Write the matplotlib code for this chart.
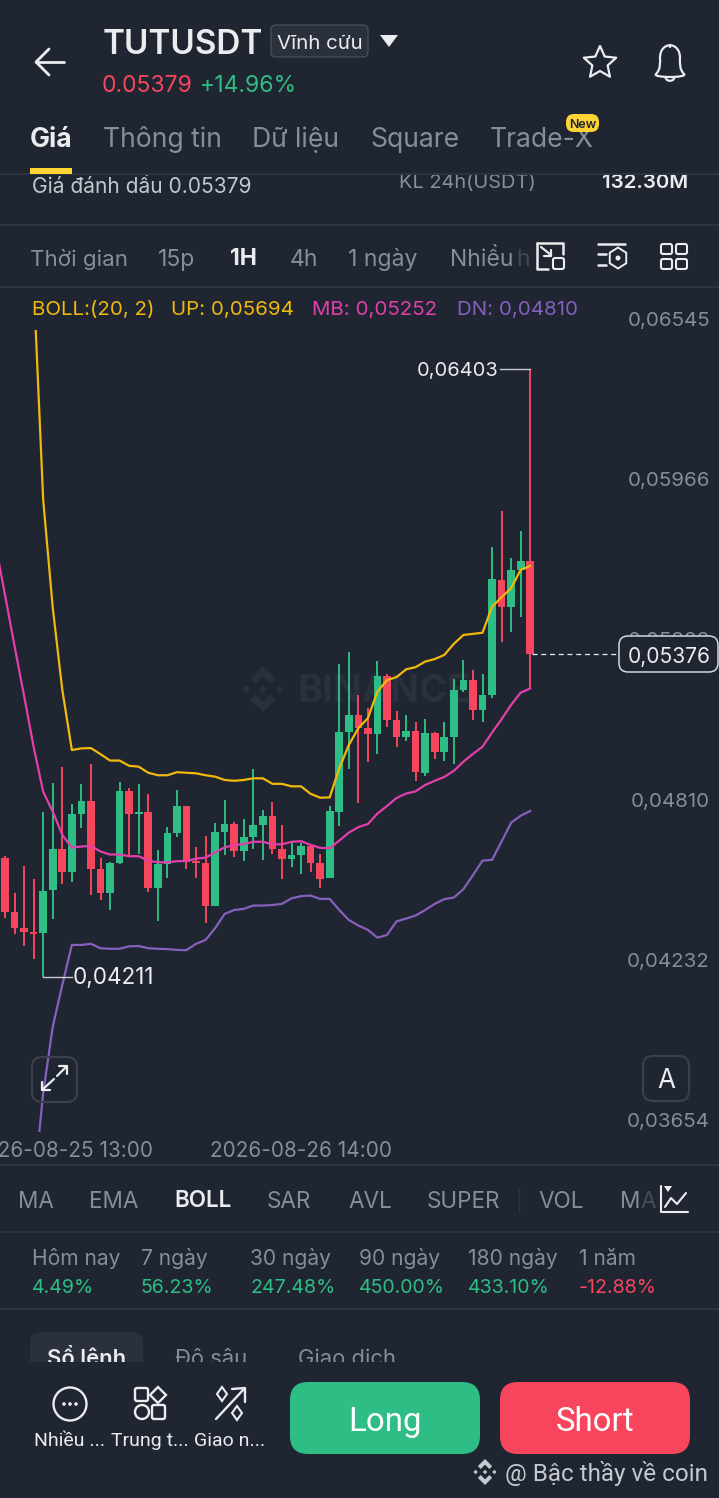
import matplotlib
matplotlib.use('Agg')
import matplotlib.pyplot as plt
import numpy as np
from matplotlib.patches import FancyBboxPatch, Polygon, Rectangle, Circle, PathPatch
from matplotlib.path import Path

# candles, one per hour, oldest first
opens = [0.04639, 0.04446, 0.04388, 0.04374, 0.04371, 0.04524, 0.04672, 0.04589, 0.04798, 0.04847,
         0.04600, 0.04515, 0.04623, 0.04882, 0.04798, 0.04808, 0.04532, 0.04618, 0.04731, 0.04827,
         0.04629, 0.04622, 0.04467, 0.04735, 0.04762, 0.04667, 0.04718, 0.04761, 0.04791, 0.04673,
         0.04637, 0.04651, 0.04684, 0.04622, 0.04568, 0.04808, 0.05094, 0.05157, 0.05109, 0.05087,
         0.05297, 0.05139, 0.05078, 0.05099, 0.04948, 0.05093, 0.05022, 0.05077, 0.05248, 0.05282,
         0.05176, 0.05228, 0.05644, 0.05547, 0.05680, 0.05710]
closes = [0.04447, 0.04389, 0.04375, 0.04368, 0.04523, 0.04672, 0.04590, 0.04798, 0.04847, 0.04601,
          0.04515, 0.04624, 0.04882, 0.04798, 0.04808, 0.04532, 0.04618, 0.04731, 0.04828, 0.04627,
          0.04622, 0.04469, 0.04735, 0.04763, 0.04667, 0.04718, 0.04761, 0.04792, 0.04672, 0.04637,
          0.04651, 0.04684, 0.04623, 0.04566, 0.04809, 0.05094, 0.05156, 0.05109, 0.05086, 0.05297,
          0.05140, 0.05078, 0.05099, 0.04950, 0.05093, 0.05022, 0.05078, 0.05248, 0.05282, 0.05176,
          0.05229, 0.05646, 0.05547, 0.05680, 0.05710, 0.05376]
highs = [0.04648, 0.04513, 0.04612, 0.04564, 0.04806, 0.04910, 0.04970, 0.04834, 0.04907, 0.04979,
         0.04640, 0.04627, 0.04914, 0.04894, 0.04907, 0.04871, 0.04671, 0.04754, 0.04887, 0.04827,
         0.04679, 0.04719, 0.04768, 0.04851, 0.04771, 0.04780, 0.04962, 0.04814, 0.04842, 0.04761,
         0.04694, 0.04694, 0.04684, 0.04654, 0.04828, 0.05342, 0.05383, 0.05228, 0.05181, 0.05350,
         0.05304, 0.05170, 0.05157, 0.05132, 0.05141, 0.05094, 0.05131, 0.05286, 0.05354, 0.05319,
         0.05304, 0.05764, 0.05892, 0.05722, 0.05820, 0.06403]
lows = [0.04425, 0.04368, 0.04324, 0.04275, 0.04211, 0.04421, 0.04547, 0.04553, 0.04748, 0.04507,
        0.04490, 0.04454, 0.04619, 0.04652, 0.04654, 0.04519, 0.04415, 0.04568, 0.04718, 0.04601,
        0.04569, 0.04405, 0.04467, 0.04652, 0.04644, 0.04631, 0.04674, 0.04635, 0.04655, 0.04563,
        0.04607, 0.04583, 0.04590, 0.04532, 0.04568, 0.04757, 0.04961, 0.04838, 0.04985, 0.05015,
        0.05113, 0.05042, 0.05064, 0.04920, 0.04938, 0.04999, 0.04991, 0.04981, 0.05241, 0.05140,
        0.05132, 0.05219, 0.05421, 0.05457, 0.05510, 0.05250]

# bollinger bands, the first points are above/below the visible pane
boll_up = [np.nan, np.nan, np.nan, 0.06715, 0.05932, 0.05543, 0.05247, 0.05030, 0.05036, 0.05037,
           0.05015, 0.04992, 0.04992, 0.04973, 0.04970, 0.04948, 0.04939, 0.04939, 0.04950, 0.04948,
           0.04946, 0.04939, 0.04934, 0.04922, 0.04919, 0.04922, 0.04928, 0.04928, 0.04908, 0.04908,
           0.04899, 0.04899, 0.04872, 0.04858, 0.04859, 0.04964, 0.05048, 0.05109, 0.05145, 0.05241,
           0.05282, 0.05293, 0.05321, 0.05329, 0.05349, 0.05358, 0.05373, 0.05413, 0.05445, 0.05449,
           0.05453, 0.05547, 0.05581, 0.05614, 0.05680, 0.05694]
boll_mid = [0.05589, 0.05405, 0.05225, 0.05041, 0.04879, 0.04808, 0.04724, 0.04678, 0.04682, 0.04684,
            0.04664, 0.04653, 0.04653, 0.04647, 0.04647, 0.04631, 0.04625, 0.04625, 0.04629, 0.04630,
            0.04638, 0.04642, 0.04660, 0.04679, 0.04687, 0.04691, 0.04699, 0.04699, 0.04690, 0.04690,
            0.04699, 0.04701, 0.04688, 0.04677, 0.04676, 0.04703, 0.04732, 0.04752, 0.04763, 0.04801,
            0.04828, 0.04857, 0.04873, 0.04881, 0.04904, 0.04919, 0.04933, 0.04955, 0.04988, 0.05016,
            0.05042, 0.05093, 0.05141, 0.05193, 0.05237, 0.05252]
boll_dn = [np.nan, np.nan, np.nan, 0.03447, 0.03793, 0.04032, 0.04183, 0.04327, 0.04327, 0.04331,
           0.04315, 0.04313, 0.04313, 0.04322, 0.04323, 0.04315, 0.04313, 0.04312, 0.04309, 0.04308,
           0.04331, 0.04345, 0.04387, 0.04439, 0.04453, 0.04457, 0.04469, 0.04469, 0.04471, 0.04475,
           0.04495, 0.04503, 0.04505, 0.04493, 0.04493, 0.04453, 0.04417, 0.04397, 0.04381, 0.04353,
           0.04363, 0.04412, 0.04422, 0.04433, 0.04453, 0.04475, 0.04492, 0.04498, 0.04528, 0.04579,
           0.04631, 0.04634, 0.04700, 0.04768, 0.04793, 0.04810]

price_ticks = [0.06545, 0.05966, 0.05388, 0.04810, 0.04232, 0.03654]
date_pos = [6, 31]
date_labels = ['2026-08-25 13:00', '2026-08-26 14:00']
last_price = 0.05376

tabs = ['Thông tin', 'Dữ liệu', 'Square', 'Trade-X']
tab_x = [103, 252, 370, 490]
periods = ['15p', '4h', '1 ngày']
period_x = [158, 290, 348]
indicators = ['MA', 'EMA', 'SAR', 'AVL', 'SUPER', 'VOL']
indicator_x = [18, 89, 267, 348, 427, 538]
perf_names = ['Hôm nay', '7 ngày', '30 ngày', '90 ngày', '180 ngày', '1 năm']
perf_values = ['4.49%', '56.23%', '247.48%', '450.00%', '433.10%', '-12.88%']
perf_x = [32, 141, 250, 359, 468, 579]

BG = '#1f2531'
GREEN = '#2ebd85'
RED = '#f6465d'
GOLD = '#f0b90b'
PINK = '#e23fac'
PURPLE = '#8660bd'
GRAY = '#848e9c'
LINE = '#2e3440'
WHITE = '#eaecef'

W, H = 719, 1498
fig = plt.figure(figsize=(W / 100, H / 100), dpi=100, facecolor=BG)

# price pane, everything in here goes through its own scales
top, bottom = 330, 1131.5
ax = fig.add_axes([0, 1 - bottom / H, 1, (bottom - top) / H], zorder=1)
ax.patch.set_alpha(0)
step = 9.55
ax.set_xlim(-5 / step, (W - 5) / step)
ax.set_ylim(min(price_ticks), max(price_ticks))
ax.axis('off')

# pixel layer for the app chrome
ui = fig.add_axes([0, 0, 1, 1], zorder=2)
ui.patch.set_alpha(0)
ui.set_xlim(0, W)
ui.set_ylim(H, 0)
ui.axis('off')


def fs(px):
    return px * 0.72


def txt(x, y, s, px, color=GRAY, ha='left', weight='normal', family='Inter', z=6, alpha=1):
    return ui.text(x, y, s, fontsize=fs(px), color=color, ha=ha, va='baseline', fontweight=weight,
                   family=family, zorder=z, alpha=alpha)


def hline(y, color=LINE, z=4):
    ui.plot([0, W], [y, y], color=color, lw=1.4, zorder=z, solid_capstyle='butt')


def box(x0, y0, x1, y1, r, fc='none', ec='none', lw=1.5, z=5):
    p = FancyBboxPatch((x0 + r, y0 + r), x1 - x0 - 2 * r, y1 - y0 - 2 * r,
                       boxstyle='round,pad=%f,rounding_size=%f' % (r, r), fc=fc, ec=ec, lw=lw, zorder=z)
    ui.add_patch(p)


def stroke(xs, ys, color=WHITE, lw=1.8, z=6):
    ui.plot(xs, ys, color=color, lw=lw, zorder=z, solid_capstyle='round', solid_joinstyle='round')


def logo(cx, cy, s, color, target, z):
    # binance mark, 4 small diamonds and the centre
    d = s * 0.17
    for ox, oy in [(0, 0), (-s * 0.72, 0), (s * 0.72, 0)]:
        target.add_patch(Polygon([(cx + ox - d, cy + oy), (cx + ox, cy + oy - d), (cx + ox + d, cy + oy),
                                  (cx + ox, cy + oy + d)], fc=color, ec='none', zorder=z, transform=ui.transData))
    for sign in (-1, 1):
        t = [(cx, cy + sign * s), (cx + s * 0.55, cy + sign * s * 0.45), (cx + s * 0.33, cy + sign * s * 0.23),
             (cx, cy + sign * s * 0.56), (cx - s * 0.33, cy + sign * s * 0.23), (cx - s * 0.55, cy + sign * s * 0.45)]
        target.add_patch(Polygon(t, fc=color, ec='none', zorder=z, transform=ui.transData))


# watermark under the candles
logo(263, 689, 23, '#2a313d', ax, 0)
ax.text(298, 702, 'BINANCE', transform=ui.transData, fontsize=fs(38), color='#2a313d', fontweight='bold',
        family='Inter', va='baseline', ha='left', zorder=0)

# candles
idx = np.arange(len(opens))
o = np.array(opens)
c = np.array(closes)
colors = [GREEN if c[i] >= o[i] else RED for i in idx]
ax.vlines(idx, lows, highs, colors=colors, lw=1.4, zorder=2)
ax.bar(idx, np.abs(c - o), bottom=np.minimum(o, c), width=0.8, color=colors, linewidth=0, zorder=3)

# bands
ax.plot(idx, boll_up, color=GOLD, lw=1.6, zorder=4)
ax.plot(idx, boll_mid, color=PINK, lw=1.6, zorder=4)
ax.plot(idx, boll_dn, color=PURPLE, lw=1.6, zorder=4)
# the middle band keeps going off the left edge
ax.plot([-1, 0], [0.05773, boll_mid[0]], color=PINK, lw=1.6, zorder=4)

# last price, high and low markers
ax.plot([idx[-1] + 0.2, (619 - 5) / step], [last_price, last_price], color=WHITE, lw=0.9,
        dashes=(4, 3), zorder=4)
hi = int(np.argmax(highs))
lo = int(np.argmin(lows))
ax.plot([hi - 3.2, hi], [highs[hi], highs[hi]], color='#c8ccd2', lw=1, zorder=5)
ax.plot([lo, lo + 3], [lows[lo], lows[lo]], color='#c8ccd2', lw=1, zorder=5)
ax.annotate('0,06403', (hi - 3.2, highs[hi]), xytext=(-0.5, -1), textcoords='offset points', ha='right',
            va='center', fontsize=fs(20), color=WHITE, family='Inter', zorder=6)
ax.annotate('0,04211', (lo + 3, lows[lo]), xytext=(0.5, -1), textcoords='offset points', ha='left',
            va='center', fontsize=fs(22.5), color=WHITE, family='Inter', zorder=6)

# price labels sit above their level, dates below the pane
for p in price_ticks:
    ax.annotate(('%.5f' % p).replace('.', ','), (1, p), xycoords=('axes fraction', 'data'),
                xytext=(-6.5, 6.8), textcoords='offset points', ha='right', va='center', fontsize=fs(20.5),
                color=GRAY, family='Inter', annotation_clip=False, zorder=2)
for pos, lab in zip(date_pos, date_labels):
    ax.annotate(lab, (pos, 0), xycoords=('data', 'axes fraction'), xytext=(0, -14), textcoords='offset points',
                ha='center', va='center', fontsize=fs(20.7), color=GRAY, family='Inter', annotation_clip=False)

box(619, 636, 718, 672, 9, fc=BG, ec='#d5d8dc', lw=1.1, z=5)
txt(669, 663, '0,05376', 21, WHITE, ha='center')

# buttons over the pane
box(32, 1057, 77, 1102, 10, ec='#3a404c', z=5)
stroke([42, 54], [1090, 1079], lw=1.6)
stroke([42, 42, 50], [1082, 1090, 1090], lw=1.6)
stroke([57, 67], [1076, 1066], lw=1.6)
stroke([59, 67, 67], [1066, 1066, 1074], lw=1.6)
box(643, 1056, 689, 1101, 10, ec='#3a404c', z=5)
txt(666, 1088, 'A', 26, WHITE, ha='center')

# legend row
txt(32, 315, 'BOLL:(20, 2)', 20.5, GOLD)
txt(171, 315, 'UP: 0,05694', 20.5, GOLD)
txt(312, 315, 'MB: 0,05252', 20.5, PINK)
txt(457, 315, 'DN: 0,04810', 20.5, PURPLE)

# stats row, its top is cut off by the tab bar
txt(32, 193, 'Giá đánh dấu 0.05379', 21, '#c3c8cf', z=1)
txt(399, 188, 'KL 24h(USDT)', 20, GRAY, z=1)
txt(688, 188, '132.30M', 20.5, WHITE, ha='right', weight='semibold', z=1)

# header
ui.add_patch(Rectangle((0, 0), W, 174, fc=BG, ec='none', zorder=3))
stroke([36, 64], [62, 62], lw=2)
stroke([49, 36, 49], [49, 62, 75], lw=2)
txt(103, 54, 'TUTUSDT', 33.3, WHITE, weight='semibold')
box(271, 25, 368, 57, 5, fc='#2a303c', ec='#474d57', lw=1)
txt(319.5, 49, 'Vĩnh cửu', 20.5, WHITE, ha='center')
ui.add_patch(Polygon([(380, 35), (398, 35), (389, 47)], fc=WHITE, ec='none', zorder=6))
txt(102, 92, '0.05379', 23, RED)
txt(200, 92, '+14.96%', 23, GREEN)

ang = np.arange(10) * np.pi / 5 - np.pi / 2
rad = np.where(np.arange(10) % 2 == 0, 17, 8)
ui.add_patch(Polygon(np.c_[600 + rad * np.cos(ang), 63 + rad * np.sin(ang)], fc='none', ec=WHITE, lw=1.6,
                     joinstyle='round', zorder=6))
# bell, body then the clapper
bell = Path([(656, 74), (661, 69), (660, 62), (660, 58),
             (660, 41), (680, 41), (680, 58),
             (680, 62), (679, 69), (684, 74),
             (688, 78), (652, 78), (656, 74)],
            [Path.MOVETO, Path.CURVE4, Path.CURVE4, Path.CURVE4,
             Path.CURVE4, Path.CURVE4, Path.CURVE4,
             Path.CURVE4, Path.CURVE4, Path.CURVE4,
             Path.CURVE4, Path.CURVE4, Path.CURVE4])
ui.add_patch(PathPatch(bell, fc='none', ec=WHITE, lw=1.6, zorder=6))
stroke([665, 667, 670, 673, 675], [77, 80, 81, 80, 77], lw=1.6)
stroke([670, 670], [45, 47], lw=1.6)

txt(30, 147, 'Giá', 26.5, WHITE, weight='bold')
for x, lab in zip(tab_x, tabs):
    txt(x, 147, lab, 26.5, GRAY)
ui.add_patch(Rectangle((30, 168), 42, 6, fc='#fcd535', ec='none', zorder=5))
box(566, 114, 599, 132, 8, fc='#fcd535', z=7)
txt(582.5, 127.5, 'New', 12.5, '#1f2531', ha='center', weight='semibold', z=8)

hline(174)
hline(225)
hline(287)

# period row
txt(30, 266, 'Thời gian', 22.3, GRAY)
for x, lab in zip(period_x, periods):
    txt(x, 266, lab, 23, GRAY)
txt(230, 265, '1H', 23, WHITE, weight='bold')
txt(450, 266, 'Nhiều', 23, GRAY)
txt(516, 266, 'h', 23, GRAY, alpha=0.35)

# period row icons
stroke([537, 563, 563], [243, 243, 254])
stroke([537, 537, 548], [243, 269, 269])
stroke([541, 551], [247, 255], lw=1.6)
stroke([551, 551, 544], [250, 256, 256], lw=1.6)
box(553, 258, 564, 269, 2, ec=WHITE, lw=1.5, z=6)
stroke([598, 625], [244, 244])
stroke([598, 606], [254, 254])
stroke([598, 606], [265, 265])
ang = np.arange(6) * np.pi / 3 + np.pi / 6
ui.add_patch(Polygon(np.c_[618 + 9.5 * np.cos(ang), 258 + 10.5 * np.sin(ang)], fc='none', ec=WHITE, lw=1.4, zorder=6))
ui.add_patch(Circle((618, 258), 2.5, fc=WHITE, ec='none', zorder=6))
for x0 in (661, 676):
    for y0 in (244, 259):
        box(x0, y0, x0 + 11, y0 + 10, 2, ec=WHITE, lw=1.5, z=6)

# indicator row
hline(1165)
for x, lab in zip(indicator_x, indicators):
    txt(x, 1208, lab, 22.5, GRAY)
txt(174, 1207, 'BOLL', 22.5, WHITE, weight='semibold')
txt(620, 1208, 'M', 22.5, GRAY)
txt(640, 1208, 'A', 22.5, GRAY, alpha=0.4)
ui.plot([519, 519], [1188, 1212], color=LINE, lw=1, zorder=5)
stroke([661, 661, 688], [1186, 1212, 1212], lw=1.5)
stroke([665, 671, 677, 686], [1207, 1198, 1204, 1193], lw=1.5)
ui.add_patch(Polygon([(664, 1186), (672, 1186), (668, 1192)], fc=WHITE, ec='none', zorder=6))
hline(1232)

# change over time
for x, name, val in zip(perf_x, perf_names, perf_values):
    txt(x, 1265, name, 21, GRAY)
    txt(x, 1293, val, 19.6, RED if val.startswith('-') else GREEN)
hline(1309)

# order book tabs, the bottom bar covers their lower half
box(30, 1332, 143, 1380, 10, fc='#2a303c', z=1)
txt(47, 1365, 'Sổ lệnh', 22, WHITE, weight='semibold', z=2)
txt(175, 1365, 'Độ sâu', 22, GRAY, z=2)
txt(298, 1365, 'Giao dịch', 22, GRAY, z=2)
ui.add_patch(Rectangle((0, 1362), W, H - 1362, fc=BG, ec='none', zorder=3))

# bottom bar
ui.add_patch(Circle((70, 1404), 16.5, fc='none', ec=WHITE, lw=1.7, zorder=6))
for dx in (-6, 0, 6):
    ui.add_patch(Circle((70 + dx, 1404), 1.8, fc=WHITE, ec='none', zorder=6))
box(135, 1388, 148, 1401, 2, ec=WHITE, lw=1.7, z=6)
ui.add_patch(Polygon([(158, 1387), (166, 1395), (158, 1403), (150, 1395)], fc='none', ec=WHITE, lw=1.7, zorder=6))
ui.add_patch(Circle((142, 1412), 7, fc='none', ec=WHITE, lw=1.7, zorder=6))
box(152, 1405, 165, 1419, 2, ec=WHITE, lw=1.7, z=6)
stroke([216, 244], [1419, 1389], lw=1.7)
stroke([232, 245, 245], [1389, 1388, 1402], lw=1.7)
ui.add_patch(Polygon([(222, 1387), (227, 1394), (222, 1401), (217, 1394)], fc='none', ec=WHITE, lw=1.5, zorder=6))
ui.add_patch(Polygon([(237, 1406), (242, 1413), (237, 1420), (232, 1413)], fc='none', ec=WHITE, lw=1.5, zorder=6))

txt(70, 1446, 'Nhiều ...', 19.5, WHITE, ha='center', family='Roboto')
txt(150, 1446, 'Trung t...', 19.5, WHITE, ha='center', family='Roboto')
txt(230, 1446, 'Giao n...', 19.5, WHITE, ha='center', family='Roboto')

box(290, 1382, 480, 1454, 18, fc=GREEN, z=5)
box(500, 1382, 690, 1454, 18, fc='#f8455e', z=5)
txt(385, 1431, 'Long', 33, 'white', ha='center', family='Roboto')
txt(595, 1431, 'Short', 33, 'white', ha='center', family='Roboto')

logo(485, 1472, 13, '#c5cad1', ui, 6)
txt(505, 1481, '@ Bậc thầy về coin', 24.2, '#c5cad1', family='Roboto')

fig.savefig('out.png', dpi=100, facecolor=BG)
